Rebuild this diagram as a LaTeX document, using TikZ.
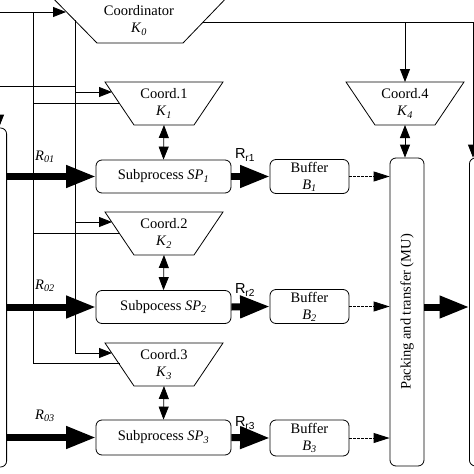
\documentclass[tikz,border=0pt]{standalone}
\usepackage{fontspec}
\setmainfont{Liberation Serif}
\newfontfamily\arialf{Liberation Sans}
\usetikzlibrary{arrows.meta}
\newcommand\coordtrap[4]{%
  \draw[ln] (#2-59,#3) -- (#2+59,#3) -- (#2+30,#3+43) -- (#2-30,#3+43) -- cycle;
  \node[lbl] (#1) at (#2,#3+21.5) {#4};
  \coordinate (#1-b) at (#2,#3+43);
  \coordinate (#1-t) at (#2,#3);
}
\begin{document}
\begin{tikzpicture}[x=1pt,y=-1pt,
  font=\fontsize{14.5}{17}\selectfont,
  ln/.style={line width=0.8pt},
  lbl/.style={align=center,inner sep=0pt},
  ar/.style={ln,-{Triangle[length=13pt,width=10pt]}},
  dar/.style={ln,{Triangle[length=13pt,width=10pt]}-{Triangle[length=13pt,width=10pt]}},
  fat/.style={line width=7pt,-{Triangle[length=30pt,width=21pt]},shorten >=-0.5pt},
  dsh/.style={ln,dash pattern=on 2.5pt off 1.5pt,-{Triangle[length=16pt,width=10pt]}},
  rbox/.style={draw,ln,rounded corners=6pt,inner sep=0pt,align=center},
  ]
\useasboundingbox (0,0) rectangle (474,474);
\clip (0,0) rectangle (474,474);

% Coordinator K0
\draw[ln] (45,-10) -- (97,43) -- (183,43) -- (234,-10);
\node[lbl] (k0) at (139,20.5) {Coordinator\\\textit{K}\textsubscript{\textit{0}}};
\coordinate (k0-r) at (203,22);
\coordinate (k0-l) at (66,12);
\coordinate (k0-lb) at (75,20);

% small coordinators
\coordtrap{k1}{164}{82}{Coord.1\\\textit{K}\textsubscript{\textit{1}}}
\coordtrap{k2}{164}{212}{Coord.2\\\textit{K}\textsubscript{\textit{2}}}
\coordtrap{k3}{164}{343}{Coord.3\\\textit{K}\textsubscript{\textit{3}}}
\coordtrap{k4}{405}{82}{Coord.4\\\textit{K}\textsubscript{\textit{4}}}

% subprocesses
\node[rbox,minimum width=135pt,minimum height=33pt] (sp1) at (163.5,176.5) {Subprocess \textit{SP}\textsubscript{\textit{1}}};
\node[rbox,minimum width=135pt,minimum height=33pt] (sp2) at (163.5,307) {Subpocess \textit{SP}\textsubscript{\textit{2}}};
\node[rbox,minimum width=135pt,minimum height=35pt] (sp3) at (163.5,437.5) {Subprocess \textit{SP}\textsubscript{\textit{3}}};

% buffers
\node[rbox,minimum width=79pt,minimum height=34pt] (b1) at (309.5,176.5) {Buffer\\\textit{B}\textsubscript{\textit{1}}};
\node[rbox,minimum width=79pt,minimum height=34pt] (b2) at (309.5,306.5) {Buffer\\\textit{B}\textsubscript{\textit{2}}};
\node[rbox,minimum width=79pt,minimum height=36pt] (b3) at (309.5,438) {Buffer\\\textit{B}\textsubscript{\textit{3}}};

% packing
\node[rbox,minimum width=34pt,minimum height=308pt] (pack) at (407,312) {};
\node[lbl,rotate=90] (packt) at (pack.center) {Packing and transfer (MU)};

% side boxes
\node[rbox,minimum width=60pt,minimum height=308pt,anchor=west] (right) at (469,312) {};
\node[rbox,minimum width=60pt,minimum height=339pt,anchor=east] (left) at (7,297.5) {};

% top lines
\coordinate (t4) at (405,22);
\coordinate (tr) at (473,22);
\coordinate (te) at (480,22);
\draw[ln] (k0-r) -- (te);
\draw[ar] (t4) -- (k4-t);
\draw[ar] (tr) -- (tr |- right.north);

% left bus
\coordinate (l0) at (0,12);
\coordinate (v1) at (33,12);
\coordinate (l86) at (0,86);
\coordinate (v2) at (75,86);
\draw[ar] (l0) -- (k0-l);
\draw[ln] (v1) -- (33,363) -- (119.5,363);
\draw[ln] (k0-lb) -- (75,353);
\draw[ln] (l86) -- (v2);
\draw[ar] (75,92) -- (112,92);
\draw[ln] (33,103) -- (119.5,103);
\draw[ar] (75,222) -- (112,222);
\draw[ln] (33,233) -- (119.5,233);
\draw[ar] (75,353) -- (112,353);
\coordinate (lt) at (-1,95);
\draw[ar] (lt) -- (lt |- left.north);

% double arrows
\draw[dar] (k1-b) -- (sp1.north);
\draw[dar] (k2-b) -- (sp2.north);
\draw[dar] (k3-b) -- (sp3.north);
\draw[dar] (k4-b) -- (k4-b |- pack.north);

% fat arrows in
\draw[fat] (left.east |- sp1) -- (sp1.west);
\draw[fat] (left.east |- sp2) -- (sp2.west);
\draw[fat] (left.east |- sp3) -- (sp3.west);
\node[lbl] (r01) at (45,157) {\textit{R}\textsubscript{\textit{01}}};
\node[lbl] (r02) at (45,286) {\textit{R}\textsubscript{\textit{02}}};
\node[lbl] (r03) at (45,416) {\textit{R}\textsubscript{\textit{03}}};

% fat arrows to buffers
\draw[fat] (sp1.east) -- (b1.west);
\draw[fat] (sp2.east) -- (b2.west);
\draw[fat] (sp3.east) -- (b3.west);
\node[lbl] (rr1) at (245,155) {\arialf R\textsubscript{r1}};
\node[lbl] (rr2) at (245,290) {\arialf R\textsubscript{r2}};
\node[lbl] (rr3) at (245,423) {\arialf R\textsubscript{r3}};

% dashed to packing
\draw[dsh] (b1.east) -- (b1.east -| pack.west);
\draw[dsh] (b2.east) -- (b2.east -| pack.west);
\draw[dsh] (b3.east) -- (b3.east -| pack.west);

% out
\draw[fat] (pack.east |- sp2) -- (right.west |- sp2);
\end{tikzpicture}
\end{document}
